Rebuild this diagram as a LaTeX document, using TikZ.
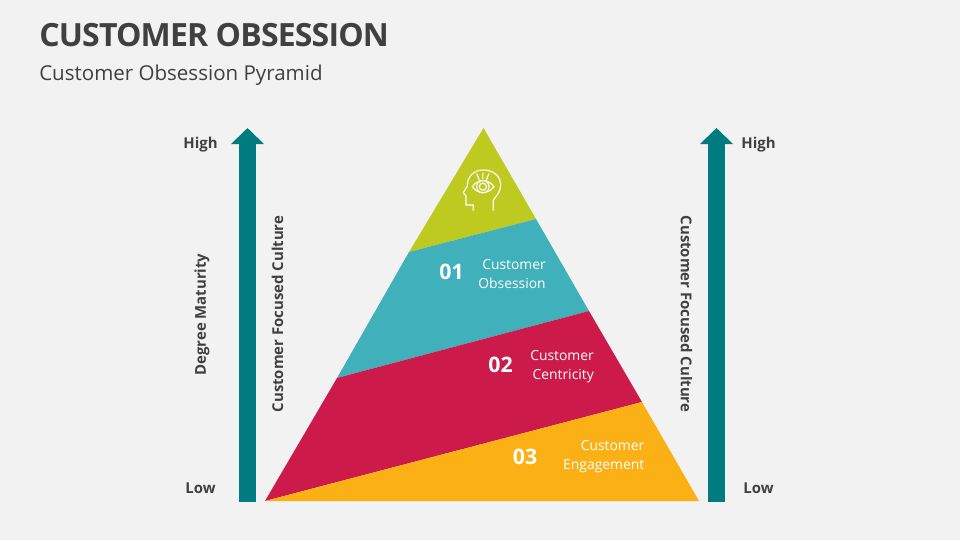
\documentclass[tikz,border=0pt]{standalone}
\usepackage{fontspec}
\setmainfont{Open Sans}
\newfontfamily\headfont[LetterSpace=-2.6]{Open Sans}
\usepackage{xcolor}
\definecolor{bgcol}{HTML}{F2F2F2}
\definecolor{inkcol}{HTML}{404040}
\definecolor{axiscol}{HTML}{007C80}
\definecolor{limecol}{HTML}{BFCA21}
\definecolor{tealcol}{HTML}{40B0BA}
\definecolor{redcol}{HTML}{CC1A4B}
\definecolor{ambercol}{HTML}{FBB116}
\usetikzlibrary{arrows.meta}

\begin{document}
\begin{tikzpicture}[
  x=0.75pt, y=-0.75pt,
  every node/.style={font=\bfseries\fontsize{11.2}{13}\selectfont, text=inkcol, inner sep=0pt},
  axis/.style={-{Triangle[length=12pt, width=24pt]}, line width=12.6pt, draw=axiscol},
  lab/.style={font=\fontsize{10.4}{14.2}\selectfont, text=white, align=right, anchor=east},
  num/.style={font=\bfseries\fontsize{16}{18}\selectfont, text=white},
  icon/.style={draw=white, line width=0.85pt}
]
\fill[bgcol] (0,0) rectangle (960,540);

% heading
\node[anchor=west, font=\headfont\bfseries\fontsize{24}{28}\selectfont] (title) at (39,35) {CUSTOMER OBSESSION};
\node[anchor=west, font=\fontsize{15.4}{18}\selectfont] (subtitle) at (39,75.5) {Customer Obsession Pyramid};

% pyramid
\fill[limecol] (483.5,128) -- (536,219) -- (409,252) -- cycle;
\fill[tealcol] (536,219) -- (589,311) -- (337,378) -- (409,252) -- cycle;
\fill[redcol] (589,311) -- (642,402) -- (265,501) -- (337,378) -- cycle;
\fill[ambercol] (642,402) -- (699,501) -- (265,501) -- cycle;

% icon
\draw[icon] (493.3,210.7) -- (493.3,200) .. controls (496,196) and (500.7,192) .. (500.7,185)
  .. controls (500.7,176) and (493,170) .. (483.3,170)
  .. controls (474,170) and (467.3,176) .. (467.3,186) -- (463.3,192.7) -- (466,196)
  -- (466,205) -- (473.3,205) -- (473.3,210.7);
\draw[icon] (472.3,186.7) .. controls (478,178.5) and (488,178.5) .. (494,186.7)
  .. controls (488,194.5) and (478,194.5) .. (472.3,186.7) -- cycle;
\draw[icon] (482.9,186.7) circle (6.2) (482.9,186.7) circle (3.6);
\draw[icon] (476.7,173.5) -- (479.3,180) (482.9,172.5) -- (482.9,179) (489,173.5) -- (486.3,180);

% axes
\coordinate (leftlow) at (247.5,502);
\coordinate (lefthigh) at (247.5,128);
\coordinate (rightlow) at (716.5,502);
\coordinate (righthigh) at (716.5,128);
\draw[axis] (leftlow) -- (lefthigh);
\draw[axis] (rightlow) -- (righthigh);

\node (highl) at (200.5,144.5) {High};
\node (lowl)  at (200.5,488) {Low};
\node (highr) at (758.5,144.5) {High};
\node (lowr)  at (758.5,488) {Low};
\node[rotate=90] (degree) at (202,314.5) {Degree Maturity};
\node[rotate=90] (cultl)  at (277.5,314) {Customer Focused Culture};
\node[rotate=-90] (cultr) at (686.5,314) {Customer Focused Culture};

% levels
\node[num] (n1) at (451.5,272) {01};
\node[lab] (l1) at (546,274) {Customer\\Obsession};
\node[num] (n2) at (500.5,365) {02};
\node[lab] (l2) at (594,367) {Customer\\Centricity};
\node[num] (n3) at (525,457) {03};
\node[lab] (l3) at (644.5,456.5) {Customer\\Engagement};
\end{tikzpicture}
\end{document}
